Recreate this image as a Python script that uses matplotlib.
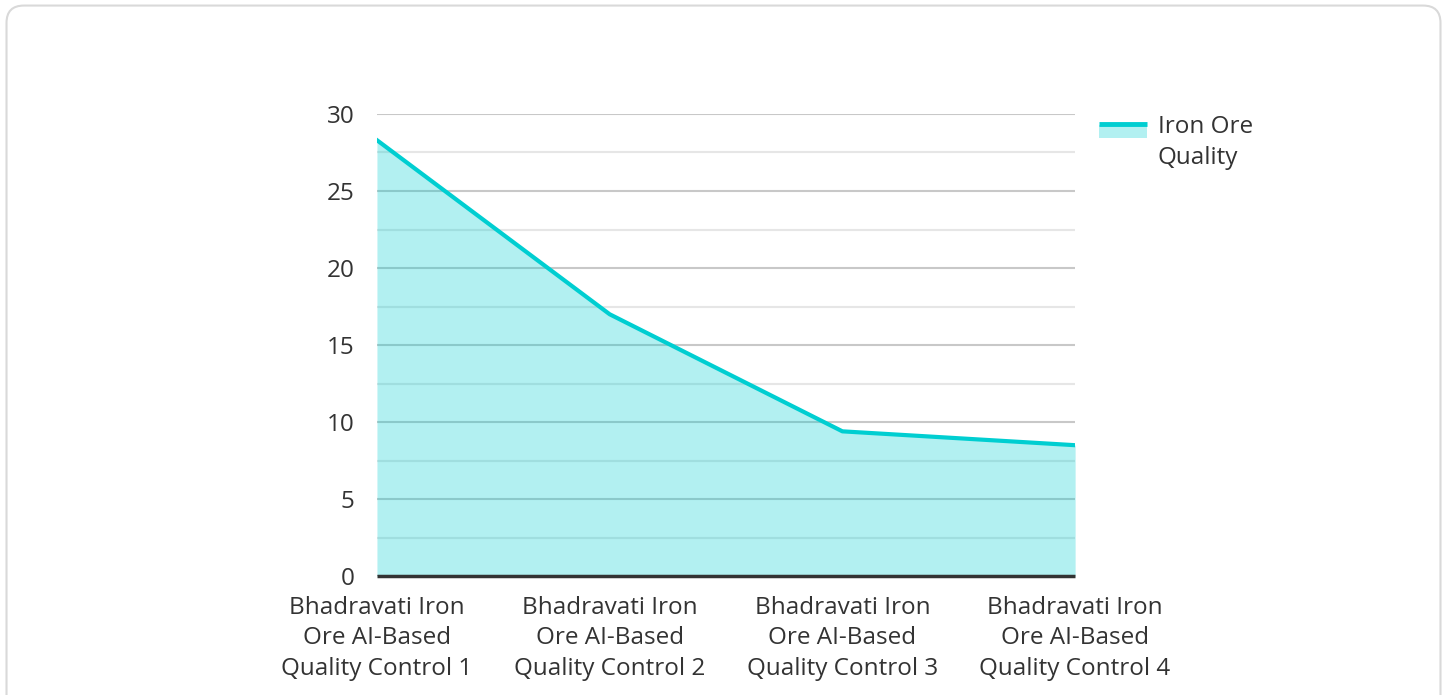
import matplotlib.pyplot as plt
from matplotlib.patches import FancyBboxPatch, Rectangle
from matplotlib.lines import Line2D

plt.rcParams['font.family'] = ['Open Sans', 'DejaVu Sans']

categories = ['Bhadravati Iron\nOre AI-Based\nQuality Control 1',
              'Bhadravati Iron\nOre AI-Based\nQuality Control 2',
              'Bhadravati Iron\nOre AI-Based\nQuality Control 3',
              'Bhadravati Iron\nOre AI-Based\nQuality Control 4']
quality = [28.3, 17.0, 9.4, 8.5]
y_ticks = [0, 5, 10, 15, 20, 25, 30]
series_name = 'Iron Ore\nQuality'

line_color = '#00CED1'
fill_color = '#00CED1'
text_color = '#333333'
font_size = 17.5

fig = plt.figure(figsize=(14.47, 6.95), dpi=100)

# rounded card behind the chart (runs off the bottom edge)
card = FancyBboxPatch((0.0045, -0.03), 0.991, 1.022,
                      boxstyle='round,pad=0,rounding_size=0.012',
                      transform=fig.transFigure, facecolor='white',
                      edgecolor='#d9d9d9', linewidth=1.5,
                      mutation_aspect=1447 / 695, zorder=-1)
fig.patches.append(card)

ax = fig.add_axes([0.2605, 0.171, 0.4825, 0.665])
ax.set_facecolor('none')

x = list(range(len(quality)))
ax.fill_between(x, quality, 0, color=fill_color, alpha=0.3, linewidth=0, zorder=3)
ax.plot(x, quality, color=line_color, linewidth=3, zorder=4)

ax.set_xlim(0, len(quality) - 1)
ax.set_ylim(0, 30)
ax.set_yticks(y_ticks)
ax.set_yticks([v + 2.5 for v in y_ticks[:-1]], minor=True)
ax.set_xticks(x)
ax.set_xticklabels(categories, linespacing=1.38)

ax.grid(axis='y', which='major', color='#c8c8c8', linewidth=1.5, zorder=1)
ax.grid(axis='y', which='minor', color='#e6e6e6', linewidth=1.5, zorder=1)
ax.grid(axis='x', visible=False)
ax.set_axisbelow(True)

for side in ['left', 'right', 'top']:
    ax.spines[side].set_visible(False)
ax.spines['bottom'].set_color('#333333')
ax.spines['bottom'].set_linewidth(2.5)
ax.spines['bottom'].set_zorder(5)
ax.spines['bottom'].set_capstyle('butt')

ax.tick_params(axis='both', which='both', length=0, labelsize=font_size, labelcolor=text_color)
ax.tick_params(axis='y', pad=16)
ax.tick_params(axis='x', pad=14)

# legend: filled swatch with a line on top
fig.patches.append(Rectangle((0.7595, 0.8014), 0.0335, 0.019, transform=fig.transFigure,
                             facecolor=fill_color, alpha=0.3, edgecolor='none'))
fig.lines.append(Line2D([0.7595, 0.793], [0.8215, 0.8215], transform=fig.transFigure,
                        color=line_color, linewidth=3.5, solid_capstyle='butt'))
fig.text(0.8, 0.8345, series_name, fontsize=font_size, color=text_color,
         va='top', ha='left', linespacing=1.38)

fig.savefig('out.png', dpi=100)
